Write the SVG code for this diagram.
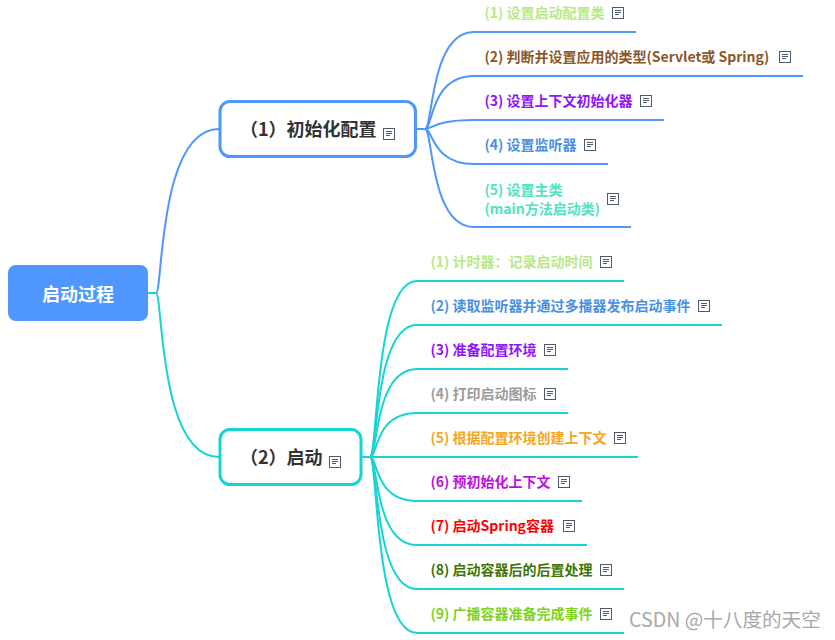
<svg xmlns="http://www.w3.org/2000/svg" width="835" height="640" viewBox="0 0 835 640">
<style>
text{font-family:"Noto Sans CJK SC","Noto Sans",sans-serif;font-weight:700}
.t{font-size:14px}
.m{font-size:18px;fill:#333}
.c{fill:none;stroke-width:2}
.b{stroke:#4f96ff}
.g{stroke:#17d4d4}
</style>
<defs>
<g id="note"><rect x="0.5" y="0.5" width="11" height="11" fill="#fff" stroke="#4f5a70" stroke-width="1"/><path d="M3 3.500H9M3 5.500H9M3 7.500H7" stroke="#4f5a70" stroke-width="1" fill="none"/></g>
</defs>
<rect width="835" height="640" fill="#fff"/>
<g id="connectors">
<path class="c b" d="M148 293H156C163 293 158 129 219 129"/>
<path class="c g" d="M148 293H156C163 293 158 457 219 457"/>
<path class="c b" d="M416 129H425C433 129 430 32 474 32H636"/>
<path class="c b" d="M416 129H425C433 129 430 76 474 76H803"/>
<path class="c b" d="M416 129H425C433 129 434 120 474 120H664"/>
<path class="c b" d="M416 129H425C433 129 432 164 474 164H608"/>
<path class="c b" d="M416 129H425C433 129 430 227 474 227H631"/>
<path class="c g" d="M362 457H370C378 457 374 281 417 281H624"/>
<path class="c g" d="M362 457H370C378 457 374 325 417 325H722"/>
<path class="c g" d="M362 457H370C378 457 374 369 417 369H568"/>
<path class="c g" d="M362 457H370C378 457 374 413 417 413H568"/>
<path class="c g" d="M362 457H638"/>
<path class="c g" d="M362 457H370C378 457 374 501 417 501H582"/>
<path class="c g" d="M362 457H370C378 457 374 545 417 545H587"/>
<path class="c g" d="M362 457H370C378 457 374 589 417 589H624"/>
<path class="c g" d="M362 457H370C378 457 374 633 417 633H624"/>
</g>
<g id="root"><rect x="8" y="265" width="140" height="56" rx="8" fill="#4f96ff"/><text x="78" y="300.500" text-anchor="middle" font-size="18" fill="#fff">启动过程</text></g>
<g id="n1"><rect x="220" y="101.500" width="195.500" height="55" rx="10" fill="#fff" stroke="#4f96ff" stroke-width="3"/><text class="m" x="240" y="136">（1）初始化配置</text><use href="#note" x="383" y="128"/></g>
<g id="n2"><rect x="220" y="429.500" width="141" height="55" rx="10" fill="#fff" stroke="#17d4d4" stroke-width="3"/><text class="m" x="240" y="464">（2）启动</text><use href="#note" x="329" y="456"/></g>
<g id="a1"><text class="t" x="484.500" y="18" fill="#b8e986">(1) 设置启动配置类</text><use href="#note" x="612" y="7"/></g>
<g id="a2"><text class="t" x="484.500" y="62" fill="#8b572a">(2) 判断并设置应用的类型(Servlet或 Spring)</text><use href="#note" x="779" y="51"/></g>
<g id="a3"><text class="t" x="484.500" y="106" fill="#9013fe">(3) 设置上下文初始化器</text><use href="#note" x="640" y="95"/></g>
<g id="a4"><text class="t" x="484.500" y="150" fill="#4a90e2">(4) 设置监听器</text><use href="#note" x="584" y="139"/></g>
<g id="a5"><text class="t" x="484.500" y="194.500" fill="#50e3c2">(5) 设置主类</text><text class="t" x="484.500" y="214" fill="#50e3c2">(main方法启动类)</text><use href="#note" x="607" y="193"/></g>
<g id="b1"><text class="t" x="430.500" y="267" fill="#b8e986">(1) 计时器：记录启动时间</text><use href="#note" x="600" y="256"/></g>
<g id="b2"><text class="t" x="430.500" y="311" fill="#4a90e2">(2) 读取监听器并通过多播器发布启动事件</text><use href="#note" x="698" y="300"/></g>
<g id="b3"><text class="t" x="430.500" y="355" fill="#9013fe">(3) 准备配置环境</text><use href="#note" x="544" y="344"/></g>
<g id="b4"><text class="t" x="430.500" y="399" fill="#9b9b9b">(4) 打印启动图标</text><use href="#note" x="544" y="388"/></g>
<g id="b5"><text class="t" x="430.500" y="443" fill="#f5a623">(5) 根据配置环境创建上下文</text><use href="#note" x="614" y="432"/></g>
<g id="b6"><text class="t" x="430.500" y="487" fill="#bd10e0">(6) 预初始化上下文</text><use href="#note" x="558" y="476"/></g>
<g id="b7"><text class="t" x="430.500" y="531" fill="#ff0000">(7) 启动Spring容器</text><use href="#note" x="563" y="520"/></g>
<g id="b8"><text class="t" x="430.500" y="575" fill="#417505">(8) 启动容器后的后置处理</text><use href="#note" x="600" y="564"/></g>
<g id="b9"><text class="t" x="430.500" y="619" fill="#7ed321">(9) 广播容器准备完成事件</text><use href="#note" x="600" y="608"/></g>
<text x="629" y="627" font-size="19.600" style="font-weight:400" fill="#a8a8a8">CSDN @十八度的天空</text>
</svg>
